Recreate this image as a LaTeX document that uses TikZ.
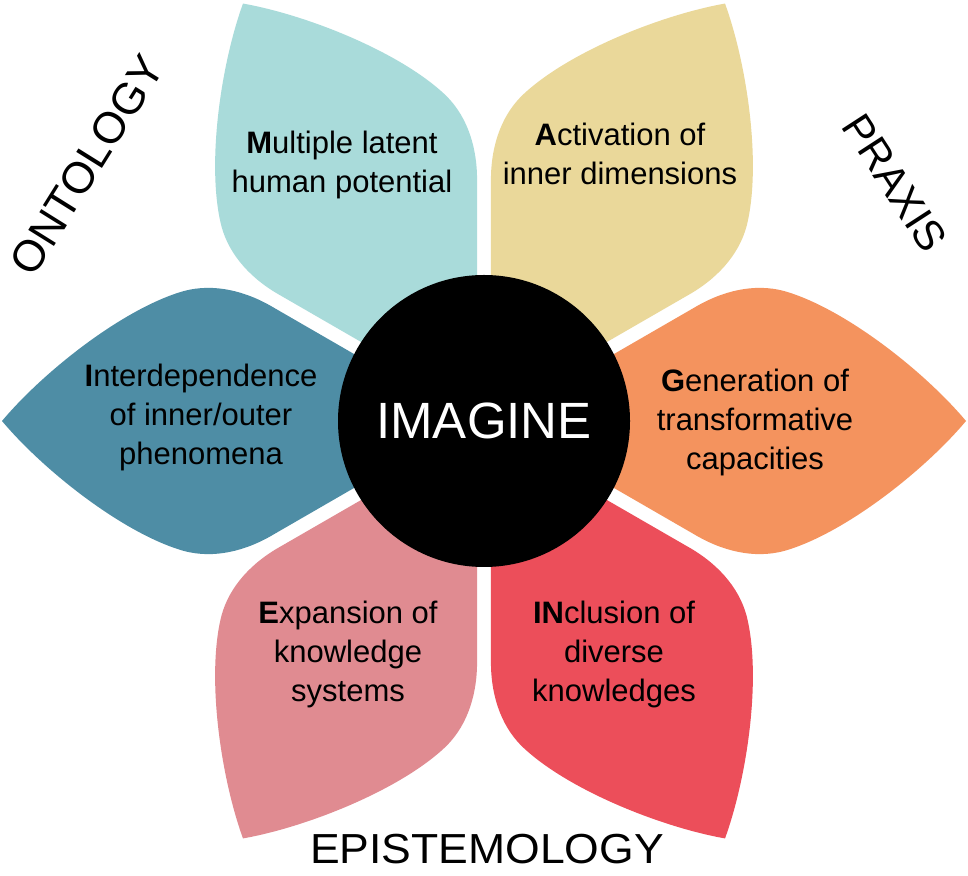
\documentclass[tikz,border=0pt]{standalone}
\usepackage{fontspec}
\setmainfont{Liberation Sans}
\definecolor{cTeal}{HTML}{A9DBDA}
\definecolor{cYellow}{HTML}{EAD89A}
\definecolor{cOrange}{HTML}{F4935E}
\definecolor{cRed}{HTML}{EC4E5A}
\definecolor{cPink}{HTML}{E08B91}
\definecolor{cBlue}{HTML}{4E8DA5}
\begin{document}
\begin{tikzpicture}[x=1pt,y=1pt,
  ptext/.style={font=\fontsize{31}{39}\selectfont, align=center, anchor=base, inner sep=0pt},
  axis label/.style={font=\fontsize{42}{50}\selectfont, inner sep=0pt}]
\useasboundingbox (0,0) rectangle (968,875);
\fill[white] (0,0) rectangle (968,875);
\foreach \ang/\col in {120/cTeal,60/cYellow,0/cOrange,-60/cRed,-120/cPink,180/cBlue}{
  \begin{scope}[shift={(484,454)}, rotate=\ang]
    \fill[\col] (14,0) -- (210,113.2)
      .. controls (238,130) and (270,138) .. (300,130)
      .. controls (360,113) and (440,50) .. (482,0)
      .. controls (440,-50) and (360,-113) .. (300,-130)
      .. controls (270,-138) and (238,-130) .. (210,-113.2) -- cycle;
  \end{scope}
}
\node[circle, fill=black, minimum size=292pt, inner sep=0pt, text=white,
      font=\fontsize{51}{60}\selectfont] (core) at (484,454) {IMAGINE};
\node[ptext] (m) at (342,682) {\textbf{M}ultiple latent\\human potential};
\node[ptext] (a) at (620,690) {\textbf{A}ctivation of\\inner dimensions};
\node[ptext] (i) at (201,410) {\textbf{I}nterdependence\\of inner/outer\\phenomena};
\node[ptext] (g) at (755,405) {\textbf{G}eneration of\\transformative\\capacities};
\node[ptext] (e) at (348,173) {\textbf{E}xpansion of\\knowledge\\systems};
\node[ptext] (in) at (614,173) {\textbf{IN}clusion of\\diverse\\knowledges};
\node[axis label, font=\fontsize{44}{52}\selectfont, rotate=58] (onto) at (87,710) {ONTOLOGY};
\node[axis label, rotate=-57] (prax) at (895,692) {PRAXIS};
\node[axis label, anchor=base, xscale=1.06] (epis) at (487,12) {EPISTEMOLOGY};
\end{tikzpicture}
\end{document}
